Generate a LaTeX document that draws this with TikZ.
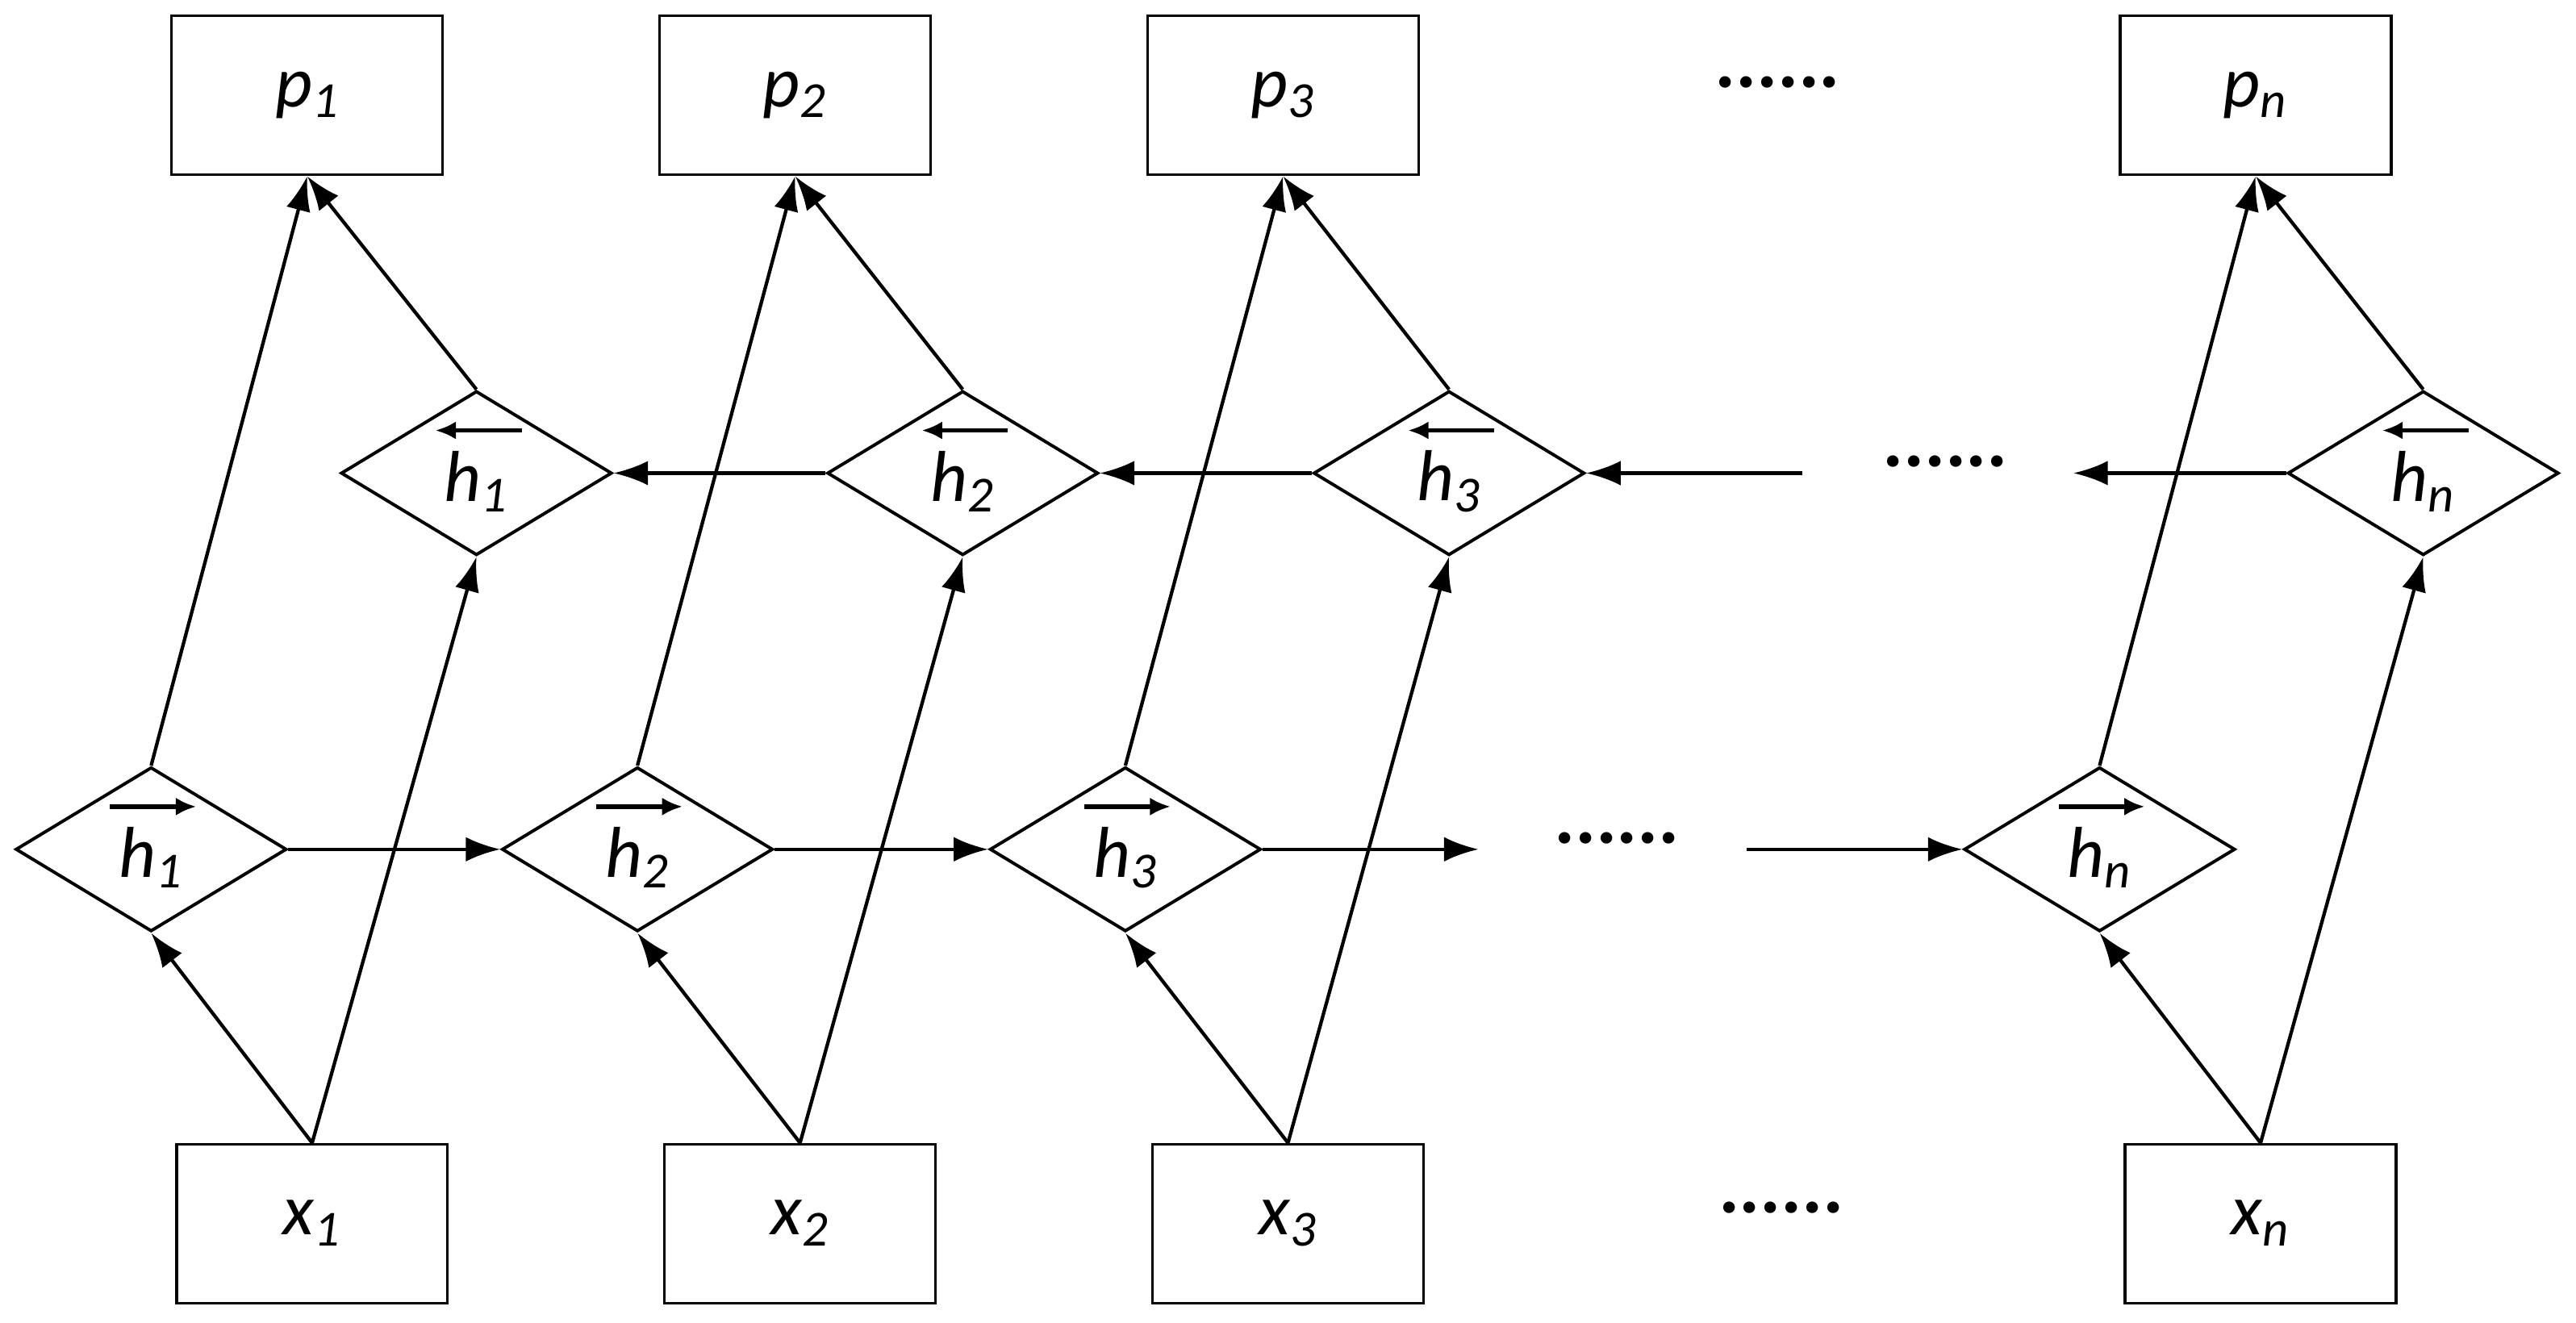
\documentclass[tikz,border=0pt]{standalone}
\usepackage{fontspec}
\setmainfont{Carlito}
\usetikzlibrary{shapes.geometric,arrows.meta}
\newcommand{\lab}[2]{\textit{#1}\textsubscript{\textit{#2}}}
\begin{document}
\begin{tikzpicture}[x=0.02cm,y=-0.02cm,
  font=\fontsize{25}{30}\selectfont,
  box/.style={draw,line width=0.9pt,minimum width=3.3cm,minimum height=1.94cm,inner sep=0pt,text depth=0.15cm},
  dia/.style={draw,diamond,line width=1.1pt,minimum width=3.3cm,minimum height=2.0cm,inner sep=0pt},
  arr/.style={line width=1.2pt,-{Latex[length=0.42cm,width=0.3cm]}},
  small/.style={line width=1.6pt,-{Latex[length=0.25cm,width=0.22cm]}},
  dots/.style={font=\fontsize{27}{32}\selectfont\bfseries\itshape}]
\useasboundingbox (0,0) rectangle (1568,805);
% p boxes
\node[box] (p1) at (187,58) {\lab{p}{1}};
\node[box] (p2) at (484,58) {\lab{p}{2}};
\node[box] (p3) at (781,58) {\lab{p}{3}};
\node[box] (pn) at (1373,58) {\lab{p}{n}};
\node[dots] (dp) at (1083,50) {......};
% x boxes
\node[box] (x1) at (190,745) {\lab{x}{1}};
\node[box] (x2) at (487,745) {\lab{x}{2}};
\node[box] (x3) at (784,745) {\lab{x}{3}};
\node[box] (xn) at (1376,745) {\lab{x}{n}};
\node[dots] (dx) at (1085,735) {......};
% forward diamonds
\node[dia] (f1) at (92,517) {};
\node[dia] (f2) at (388,517) {};
\node[dia] (f3) at (685,517) {};
\node[dia] (fn) at (1278,517) {};
% backward diamonds
\node[dia] (b1) at (290,288) {};
\node[dia] (b2) at (586,288) {};
\node[dia] (b3) at (882,288) {};
\node[dia] (bn) at (1475,288) {};
% labels
\foreach \n/\s in {f1/1,f2/2,f3/3,fn/n}{
  \node (l\n) at ([yshift=-0.1cm]\n.center) {\lab{h}{\s}};
  \draw[small] ([xshift=-0.5cm,yshift=0.52cm]\n.center) -- ([xshift=0.55cm,yshift=0.52cm]\n.center);
}
\foreach \n/\s in {b1/1,b2/2,b3/3,bn/n}{
  \node (l\n) at ([yshift=-0.1cm]\n.center) {\lab{h}{\s}};
  \draw[small] ([xshift=0.55cm,yshift=0.52cm]\n.center) -- ([xshift=-0.5cm,yshift=0.52cm]\n.center);
}
\node[dots] (df) at (985,510) {......};
\node[dots] (db) at (1185,281) {......};
\coordinate (fa) at (900,517);
\coordinate (fb) at (1063,517);
\coordinate (ba) at (1262,288);
\coordinate (bb) at (1097,288);
% vertical connectors
\foreach \i in {1,2,3,n}{
  \draw[arr] (x\i.north) -- (f\i.south);
  \draw[arr] (x\i.north) -- (b\i.south);
  \draw[arr] (f\i.north) -- (p\i.south);
  \draw[arr] (b\i.north) -- (p\i.south);
}
% horizontal
\draw[arr] (f1.east) -- (f2.west);
\draw[arr] (f2.east) -- (f3.west);
\draw[arr] (f3.east) -- (fa);
\draw[arr] (fb) -- (fn.west);
\draw[arr] (b2.west) -- (b1.east);
\draw[arr] (b3.west) -- (b2.east);
\draw[arr] (bb) -- (b3.east);
\draw[arr] (bn.west) -- (ba);
\end{tikzpicture}
\end{document}
